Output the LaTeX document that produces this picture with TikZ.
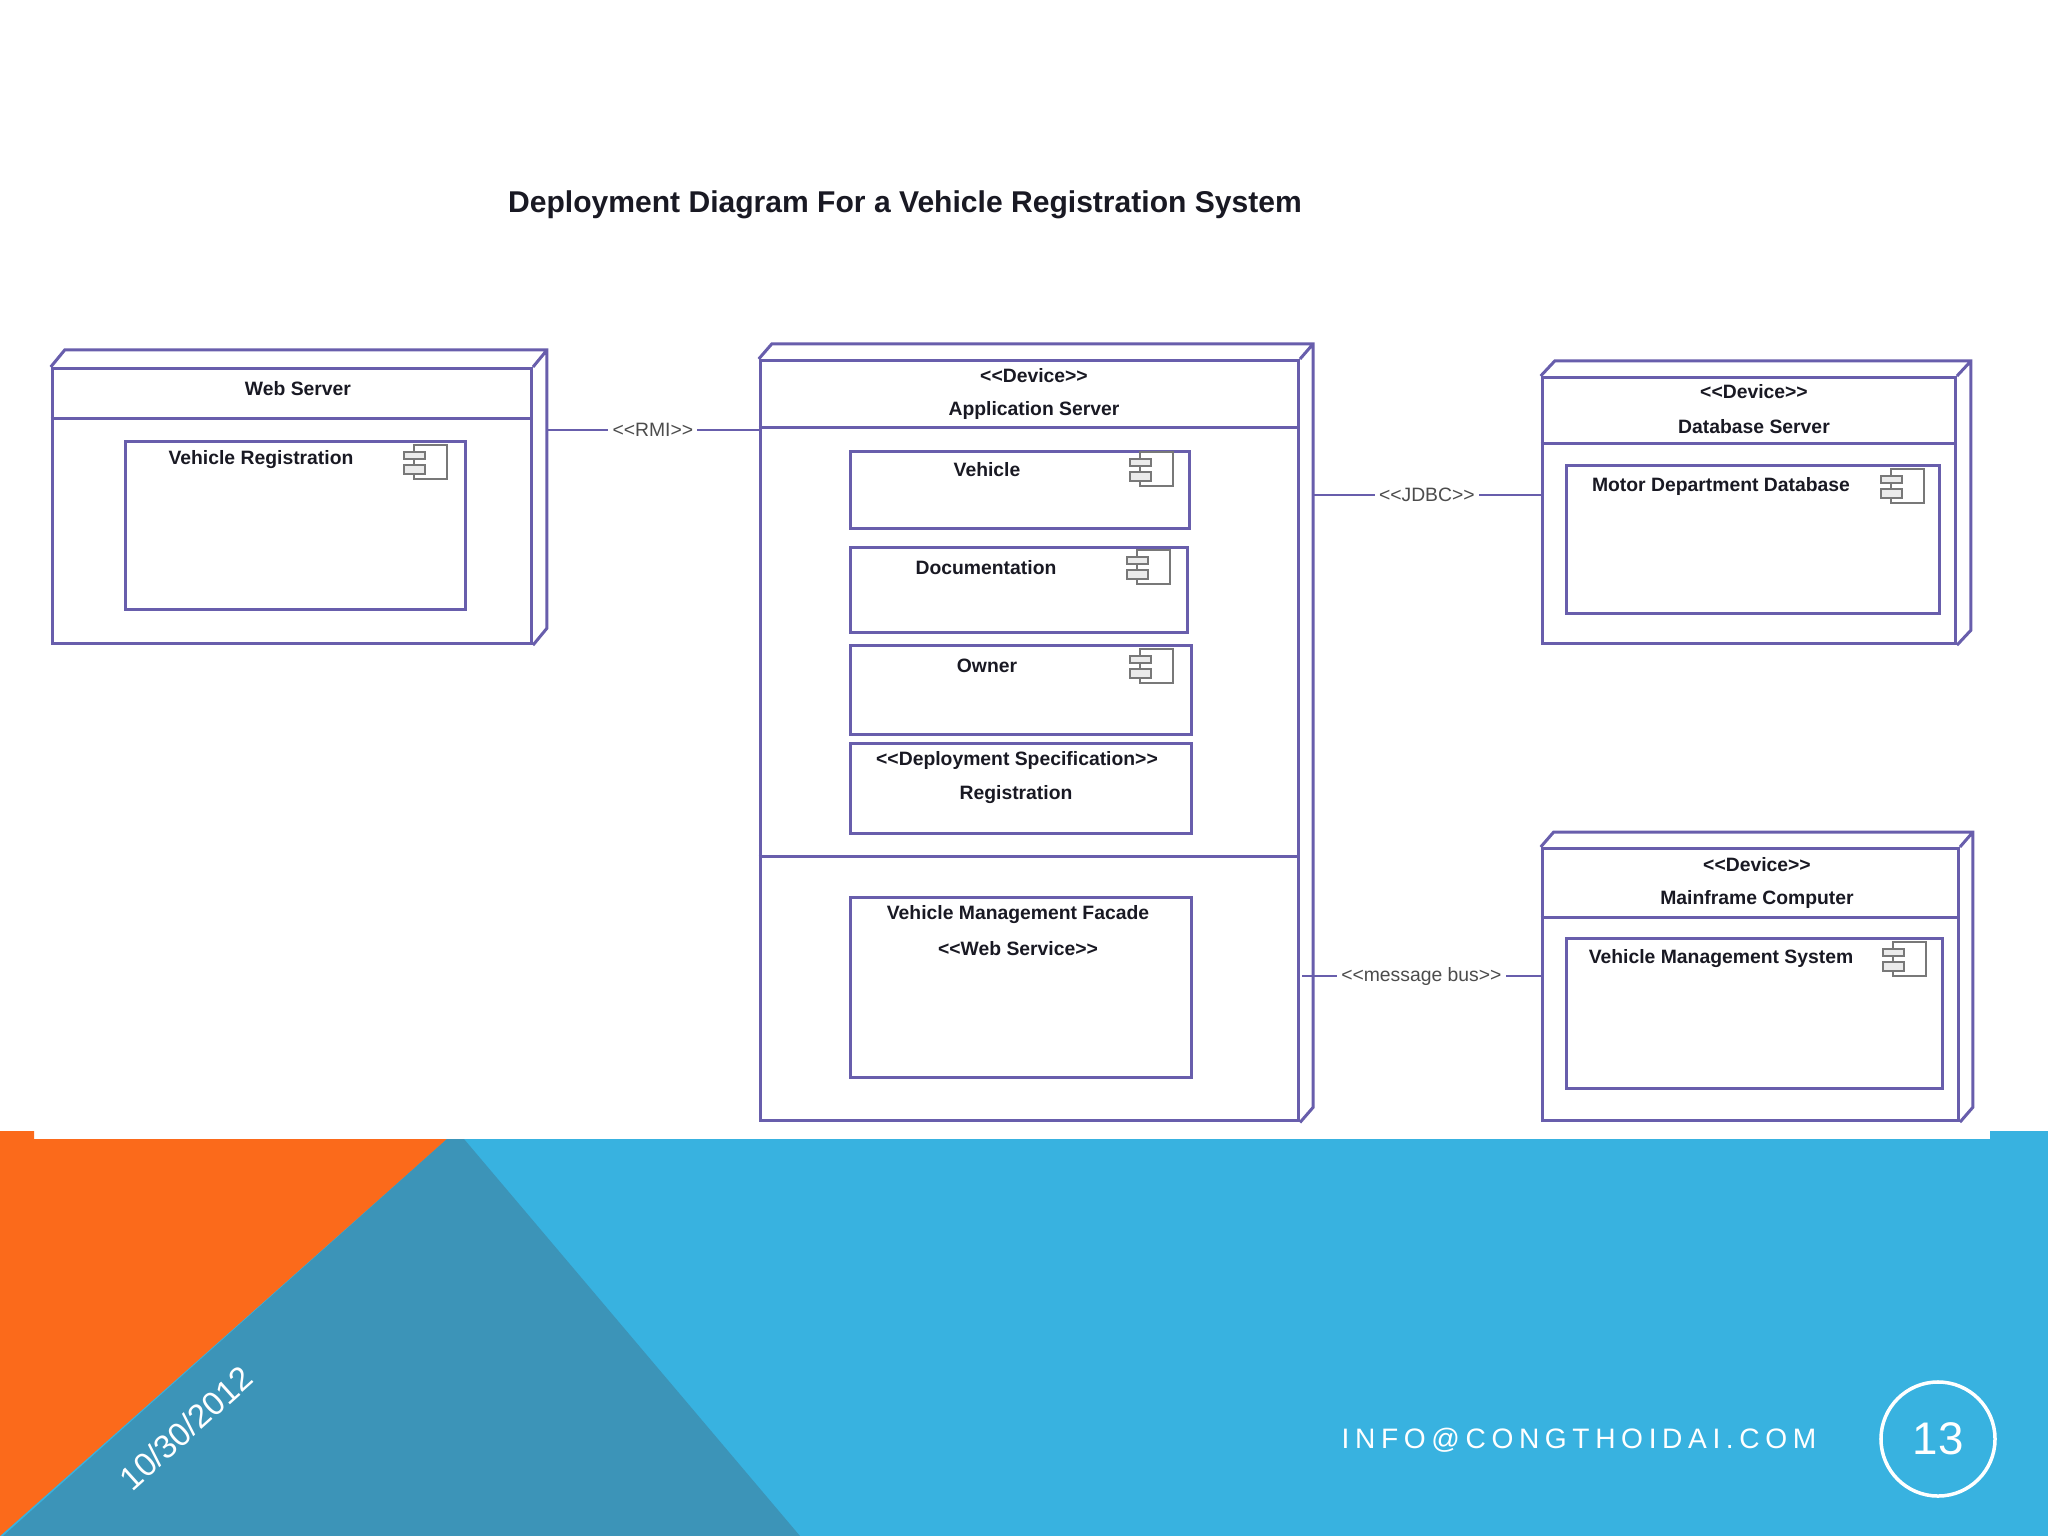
\documentclass[tikz,border=0pt]{standalone}
\usepackage{fontspec}
\setmainfont{Liberation Sans}
\newfontfamily\trackfont{Liberation Sans}[LetterSpace=20]
\usepackage{tikz}
\usetikzlibrary{positioning,calc}
\definecolor{cLine}{RGB}{104,94,172}
\definecolor{cIcon}{RGB}{120,120,120}
\definecolor{cInk}{RGB}{25,25,35}
\definecolor{cOrange}{HTML}{FB6A1B}
\definecolor{cBlue}{HTML}{38B2E0}
\definecolor{cTeal}{HTML}{3C94B8}
\newcommand{\guil}[1]{<{}<#1>{}>}
\newcommand{\nodedepth}[3]{%
\draw[edgeline] (#1.north west) -- ++(#2,#3) -- ([shift={(#2,#3)}]#1.north east) -- ([shift={(#2,#3)}]#1.south east) -- (#1.south east) (#1.north east) -- ++(#2,#3);%
}
\tikzset{
  edgeline/.style={draw=cLine, line width=0.3mm, line join=miter},
  device/.style={rectangle, edgeline, anchor=north west, inner sep=0pt, xshift=-0.13mm, yshift=0.1mm},
  comp/.style={rectangle, edgeline, anchor=north west, inner sep=0pt, xshift=-0.13mm, yshift=0.1mm},
  label/.style={font=\fontsize{5.5}{6}\selectfont\bfseries, text=cInk, inner sep=0pt},
  wire/.style={edgeline, line width=0.28mm},
  wirelabel/.style={font=\fontsize{5.5}{6}\selectfont, text=black!70, fill=white, inner xsep=1.2pt, inner ysep=1pt},
  compicon/.pic={
    \draw[cIcon, line width=0.2mm] (10,0) rectangle (43,34);
    \draw[cIcon, line width=0.2mm, fill=black!8] (0,7) rectangle (21,14);
    \draw[cIcon, line width=0.2mm, fill=black!8] (0,20) rectangle (21,29);
  },
}
\begin{document}
\begin{tikzpicture}[x=0.01cm, y=-0.01cm]
  \useasboundingbox (0,0) rectangle (2048,1536);
  % slide footer
  \fill[cBlue] (0,1131) rectangle (2048,1536);
  \fill[white] (34,1100) rectangle (1990,1139);
  \fill[cOrange] (0,1131) -- (34,1131) -- (34,1139) -- (447,1139) -- (0,1536) -- cycle;
  \fill[cTeal] (447,1139) -- (464,1139) -- (800,1536) -- (3,1536) -- cycle;
  \node[font=\fontsize{9.4}{11}\selectfont, text=white, rotate=42, inner sep=0pt] (date) at (186,1428) {10/30/2012};
  \node[font=\fontsize{8}{10}\selectfont\trackfont, text=white, inner sep=0pt] (mail) at (1579,1440) {INFO@CONGTHOIDAI.COM};
  \node[circle, draw=white, line width=0.35mm, minimum size=11.4mm, inner sep=0pt, font=\fontsize{13}{15}\selectfont, text=white] (page) at (1938,1439) {13};

  \node[font=\fontsize{8.55}{10}\selectfont\bfseries, text=cInk, inner sep=0pt] (title) at (905,205) {Deployment Diagram For a Vehicle Registration System};

  % web server
  \node[device, minimum width=47.9mm, minimum height=27.5mm] (web) at (52,368) {};
  \nodedepth{web}{1.4mm}{1.7mm}
  \draw[edgeline] ([yshift=-5.1mm]web.north west) -- ([yshift=-5.1mm]web.north east);
  \node[label] (webname) at (298,389) {Web Server};
  \node[comp, minimum width=34mm, minimum height=16.8mm] (reg) at (125,441) {};
  \node[label] (regname) at (261,460) {Vehicle Registration};
  \pic at (404,445) {compicon};

  % application server
  \node[device, minimum width=53.8mm, minimum height=76mm] (app) at (760,360) {};
  \nodedepth{app}{1.3mm}{1.5mm}
  \draw[edgeline] ([yshift=-6.8mm]app.north west) -- ([yshift=-6.8mm]app.north east);
  \draw[edgeline] ([yshift=-49.7mm]app.north west) -- ([yshift=-49.7mm]app.north east);
  \node[label] (appst) at (1034,376) {\guil{Device}};
  \node[label] (appname) at (1034,410) {Application Server};
  \node[comp, minimum width=33.9mm, minimum height=7.7mm] (veh) at (850,451) {};
  \node[label] (vehname) at (987,470) {Vehicle};
  \pic at (1130,452) {compicon};
  \node[comp, minimum width=33.7mm, minimum height=8.5mm] (doc) at (850,547) {};
  \node[label] (docname) at (986,568) {Documentation};
  \pic at (1127,550) {compicon};
  \node[comp, minimum width=34.1mm, minimum height=8.9mm] (own) at (850,645) {};
  \node[label] (ownname) at (987,666) {Owner};
  \pic at (1130,649) {compicon};
  \node[comp, minimum width=34.1mm, minimum height=9mm] (spec) at (850,743) {};
  \node[label] (specst) at (1017,760) {\guil{Deployment Specification}};
  \node[label] (specname) at (1016,795) {Registration};
  \node[comp, minimum width=34.1mm, minimum height=18mm] (fac) at (850,897) {};
  \node[label] (facname) at (1018,915) {Vehicle Management Facade};
  \node[label] (facst) at (1018,949) {\guil{Web Service}};

  % database server
  \node[device, minimum width=41.3mm, minimum height=26.6mm] (db) at (1542,377) {};
  \nodedepth{db}{1.4mm}{1.5mm}
  \draw[edgeline] ([yshift=-6.7mm]db.north west) -- ([yshift=-6.7mm]db.north east);
  \node[label] (dbst) at (1754,392) {\guil{Device}};
  \node[label] (dbname) at (1754,427) {Database Server};
  \node[comp, minimum width=37.3mm, minimum height=14.8mm] (mdd) at (1566,465) {};
  \node[label] (mddname) at (1721,486) {Motor Department Database};
  \pic at (1881,469) {compicon};

  % mainframe computer
  \node[device, minimum width=41.6mm, minimum height=27.2mm] (main) at (1542,848) {};
  \nodedepth{main}{1.3mm}{1.5mm}
  \draw[edgeline] ([yshift=-7mm]main.north west) -- ([yshift=-7mm]main.north east);
  \node[label] (mainst) at (1757,865) {\guil{Device}};
  \node[label] (mainname) at (1757,899) {Mainframe Computer};
  \node[comp, minimum width=37.6mm, minimum height=15mm] (vms) at (1566,938) {};
  \node[label] (vmsname) at (1721,959) {Vehicle Management System};
  \pic at (1883,942) {compicon};

  % links
  \coordinate (webport) at (547,430);
  \coordinate (appjdbc) at (1313,495);
  \coordinate (appbus) at (1302,976);
  \draw[wire] (webport) -- node[wirelabel] (rmi) {\guil{RMI}} (webport -| app.west);
  \draw[wire] (appjdbc) -- node[wirelabel] (jdbc) {\guil{JDBC}} (appjdbc -| db.west);
  \draw[wire] (appbus) -- node[wirelabel] (bus) {\guil{message bus}} (appbus -| main.west);
\end{tikzpicture}
\end{document}
